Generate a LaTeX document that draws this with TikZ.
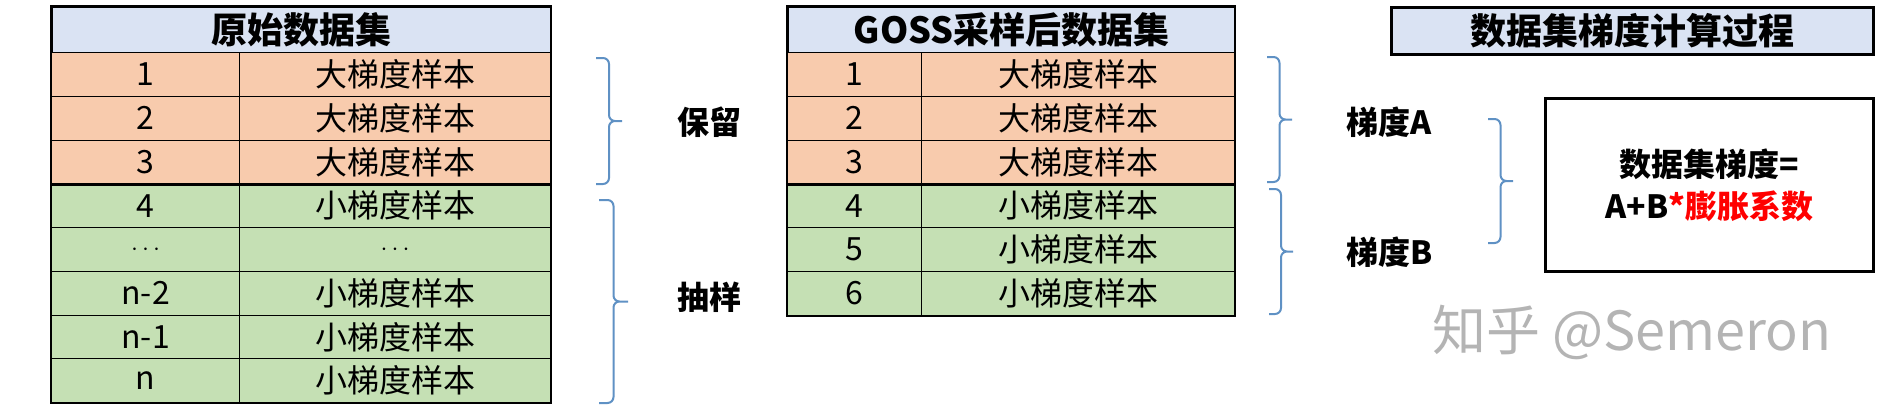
\documentclass[tikz,border=0pt]{standalone}
\usepackage{fontspec}
\setmainfont{Noto Sans CJK SC}
\usetikzlibrary{positioning,calc}

\definecolor{headblue}{RGB}{218,227,243}
\definecolor{bigorange}{RGB}{248,203,173}
\definecolor{smallgreen}{RGB}{197,224,180}
\definecolor{bracecol}{RGB}{95,145,196}
\definecolor{markgray}{RGB}{180,180,180}

\newcommand{\middots}{$\cdots$}

\tikzset{
    cell/.style={draw=black, line width=1.2pt, anchor=north west, inner sep=0pt,
        minimum height=43.75pt, font=\fontsize{32}{32}\selectfont},
    big/.style={cell, fill=bigorange},
    small/.style={cell, fill=smallgreen},
    head/.style={cell, fill=headblue, minimum height=46pt, line width=2.4pt,
        font=\fontsize{36}{36}\selectfont\bfseries},
    frame/.style={draw=black, line width=2.4pt},
    grad brace/.style={draw=bracecol, line width=2pt, rounded corners=6pt, to path={
        let \p1=(\tikztostart), \p2=(\tikztotarget), \n1={0.5*(\y1+\y2)} in
        (\p1) -- (\x1+0.5*#1,\y1) -- (\x1+0.5*#1,\n1) -- (\x1+#1,\n1)
        (\x1+#1,\n1) -- (\x1+0.5*#1,\n1) -- (\x1+0.5*#1,\y2) -- (\p2)}},
    tag/.style={inner sep=0pt, font=\fontsize{32}{32}\selectfont\bfseries}
}

\begin{document}
\begin{tikzpicture}[x=1pt,y=-1pt]
    \useasboundingbox (0,0) rectangle (1904,408);
    % 原始数据集
    \node[head, minimum width=499pt] (orghead) at (51,6) {原始数据集};
    \foreach \n/\txt/\kind [count=\i] in {1/大梯度样本/big, 2/大梯度样本/big, 3/大梯度样本/big,
        4/小梯度样本/small, \middots/\middots/small, n-2/小梯度样本/small,
        n-1/小梯度样本/small, n/小梯度样本/small}
    {
        \node[\kind, minimum width=188pt] (orgid\i) at (51,{52+(\i-1)*43.75}) {\n};
        \node[\kind, minimum width=311pt] (orgtxt\i) at (239,{52+(\i-1)*43.75}) {\txt};
    }
    \draw[frame] (orghead.north west) rectangle (orgtxt8.south east);
    \draw[frame] (orgid3.south west) -- (orgtxt3.south east);
    % GOSS采样后数据集
    \node[head, minimum width=447pt] (gosshead) at (787,6) {GOSS采样后数据集};
    \foreach \n/\txt/\kind [count=\i] in {1/大梯度样本/big, 2/大梯度样本/big, 3/大梯度样本/big,
        4/小梯度样本/small, 5/小梯度样本/small, 6/小梯度样本/small}
    {
        \node[\kind, minimum width=134pt] (gossid\i) at (787,{52+(\i-1)*43.75}) {\n};
        \node[\kind, minimum width=313pt] (gosstxt\i) at (921,{52+(\i-1)*43.75}) {\txt};
    }
    \draw[frame] (gosshead.north west) rectangle (gosstxt6.south east);
    \draw[frame] (gossid3.south west) -- (gosstxt3.south east);
    % 数据集梯度计算过程
    \node[head, minimum width=482pt, minimum height=47pt, line width=3pt] (calchead) at (1390,6) {数据集梯度计算过程};
    \node[draw=black, line width=2.6pt, anchor=north west, minimum width=328pt, minimum height=173pt,
        align=center, font=\fontsize{32}{42}\selectfont\bfseries] (calc) at (1544,97)
        {数据集梯度=\\A+B{\color{red}*膨胀系数}};

    \node[tag] (keep) at (709,122) {保留};
    \node[tag] (sample) at (709,297) {抽样};
    \node[tag] (gradA) at (1389,122) {梯度A};
    \node[tag] (gradB) at (1390,252) {梯度B};

    \coordinate (keeptop) at (596,58);
    \coordinate (keepbot) at (596,184);
    \coordinate (sampletop) at (599,200);
    \coordinate (samplebot) at (599,403);
    \coordinate (Atop) at (1267,57);
    \coordinate (Abot) at (1267,182);
    \coordinate (Btop) at (1269,189);
    \coordinate (Bbot) at (1269,314);
    \coordinate (sumtop) at (1488,119);
    \coordinate (sumbot) at (1488,243);
    \draw[grad brace=26pt] (keeptop) to (keepbot);
    \draw[grad brace=29pt] (sampletop) to (samplebot);
    \draw[grad brace=25pt] (Atop) to (Abot);
    \draw[grad brace=24pt] (Btop) to (Bbot);
    \draw[grad brace=25pt] (sumtop) to (sumbot);

    \node[anchor=west, inner sep=0pt, text=markgray, font=\fontsize{54}{54}\selectfont] (mark) at (1432,332) {知乎 @Semeron};
\end{tikzpicture}
\end{document}
